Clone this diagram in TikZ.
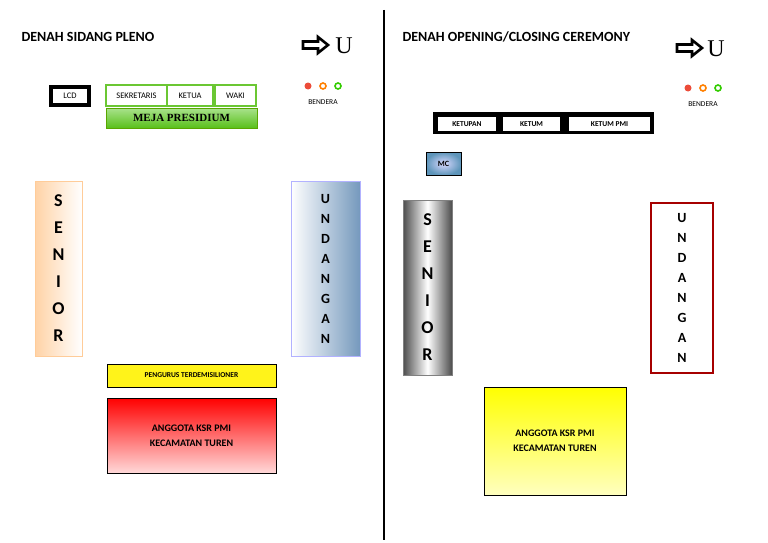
\documentclass[tikz,border=0pt]{standalone}
\usepackage{fontspec}
\setmainfont{Carlito}
\newfontfamily\serifU{Liberation Serif}
\begin{document}
\begin{tikzpicture}[x=1pt,y=-1pt,
  ttl/.style={anchor=west,font=\bfseries\fontsize{14}{16}\selectfont},
  cell/.style={draw=green!45!olive!80,line width=1.4pt,fill=white,font=\fontsize{8.5}{9}\selectfont,inner sep=0pt},
  blk/.style={fill=white,inner sep=0pt,font=\bfseries\fontsize{7.5}{8}\selectfont},
  vert/.style={align=center,font=\bfseries\fontsize{14}{20}\selectfont},
  fatarrow/.style={draw=black,fill=white,line width=2.6pt,line join=miter},
  uu/.style={font=\serifU\fontsize{24}{24}\selectfont}]
\useasboundingbox (0,0) rectangle (768,543);
\fill[white] (0,0) rectangle (768,543);
\draw[line width=2pt] (384,10) -- (384,540);
% left
\node[ttl] (t1) at (18,37) {DENAH SIDANG PLENO};
\draw[fatarrow] (303,41.5) -- (318,41.5) -- (318,37) -- (328,45) -- (318,53) -- (318,48.5) -- (303,48.5) -- cycle;
\node[uu] (u1) at (344,46) {U};
\node[draw,line width=4pt,minimum width=38pt,minimum height=18pt,inner sep=0pt,font=\fontsize{8.5}{9}\selectfont] (lcd) at (70,96) {LCD};
\node[cell,minimum width=61pt,minimum height=21pt] (sek) at (136.5,95.5) {SEKRETARIS};
\node[cell,minimum width=46pt,minimum height=21pt] (ket) at (190,95.5) {KETUA};
\node[cell,minimum width=41pt,minimum height=21pt] (wak) at (235.5,95.5) {WAKI};
\node[draw=green!30!olive,top color=green!50!olive!45,bottom color=green!45!olive!90,minimum width=151pt,minimum height=20pt,inner sep=0pt,font=\serifU\bfseries\fontsize{11}{11}\selectfont] (meja) at (181.5,118) {MEJA PRESIDIUM};
\fill[red!65!brown!85] (308,86) circle (3.5);
\draw[orange,line width=1.6pt] (323,86) circle (3);
\draw[green!60!olive,line width=1.6pt] (338,86) circle (3);
\node[font=\fontsize{7.5}{8}\selectfont] (b1) at (323,102) {BENDERA};
\node[draw=orange!40,left color=orange!35,right color=white,minimum width=47pt,minimum height=175pt,inner sep=0pt,vert,font=\bfseries\fontsize{18}{27}\selectfont] (sen1) at (58.5,268.5) {S\\E\\N\\I\\O\\R};
\node[draw=blue!30,left color=white,right color=blue!50!cyan!35!gray!80,minimum width=69pt,minimum height=175pt,inner sep=0pt,vert] (und1) at (325.5,268.5) {U\\N\\D\\A\\N\\G\\A\\N};
\node[draw,fill=yellow!90!white,minimum width=169pt,minimum height=23pt,inner sep=0pt,font=\bfseries\fontsize{7.5}{8}\selectfont] (pen) at (191.5,375.5) {PENGURUS TERDEMISILIONER};
\node[draw,top color=red,bottom color=red!15,minimum width=169pt,minimum height=75pt,inner sep=0pt,align=center,font=\bfseries\fontsize{10}{15}\selectfont] (ang1) at (191.5,435.5) {ANGGOTA KSR PMI\\KECAMATAN TUREN};
% right
\node[ttl] (t2) at (399,37) {DENAH OPENING/CLOSING CEREMONY};
\draw[fatarrow] (677,44.5) -- (692,44.5) -- (692,40) -- (702,48) -- (692,56) -- (692,51.5) -- (677,51.5) -- cycle;
\node[uu] (u2) at (716,49) {U};
\fill[red!65!brown!85] (688,88) circle (3.5);
\draw[orange,line width=1.6pt] (703,88) circle (3);
\draw[green!60!olive,line width=1.6pt] (718,88) circle (3);
\node[font=\fontsize{7.5}{8}\selectfont] (b2) at (703,104) {BENDERA};
\node[fill=black,minimum width=221pt,minimum height=22pt,inner sep=0pt] (tab) at (543.5,123) {};
\node[blk,minimum width=58pt,minimum height=14pt] (k1) at (467,124) {KETUPAN};
\node[blk,minimum width=57pt,minimum height=14pt] (k2) at (531.5,124) {KETUM};
\node[blk,minimum width=81pt,minimum height=14pt] (k3) at (609.5,124) {KETUM PMI};
\node[draw,inner color=blue!15,outer color=blue!40!cyan!40!gray!90,minimum width=35pt,minimum height=23pt,inner sep=0pt,font=\bfseries\fontsize{8}{9}\selectfont] (mc) at (443.5,163.5) {MC};
\node[draw=gray,left color=black!70,right color=black!70,middle color=white,minimum width=49pt,minimum height=175pt,inner sep=0pt,vert,font=\bfseries\fontsize{18}{27}\selectfont] (sen2) at (427.5,287.5) {S\\E\\N\\I\\O\\R};
\node[draw=red!65!black,line width=2.5pt,fill=white,minimum width=62pt,minimum height=170pt,inner sep=0pt,vert] (und2) at (682,288) {U\\N\\D\\A\\N\\G\\A\\N};
\node[draw,top color=yellow,bottom color=yellow!25,minimum width=142pt,minimum height=108pt,inner sep=0pt,align=center,font=\bfseries\fontsize{10}{15}\selectfont] (ang2) at (555,441) {ANGGOTA KSR PMI\\KECAMATAN TUREN};
\end{tikzpicture}
\end{document}
